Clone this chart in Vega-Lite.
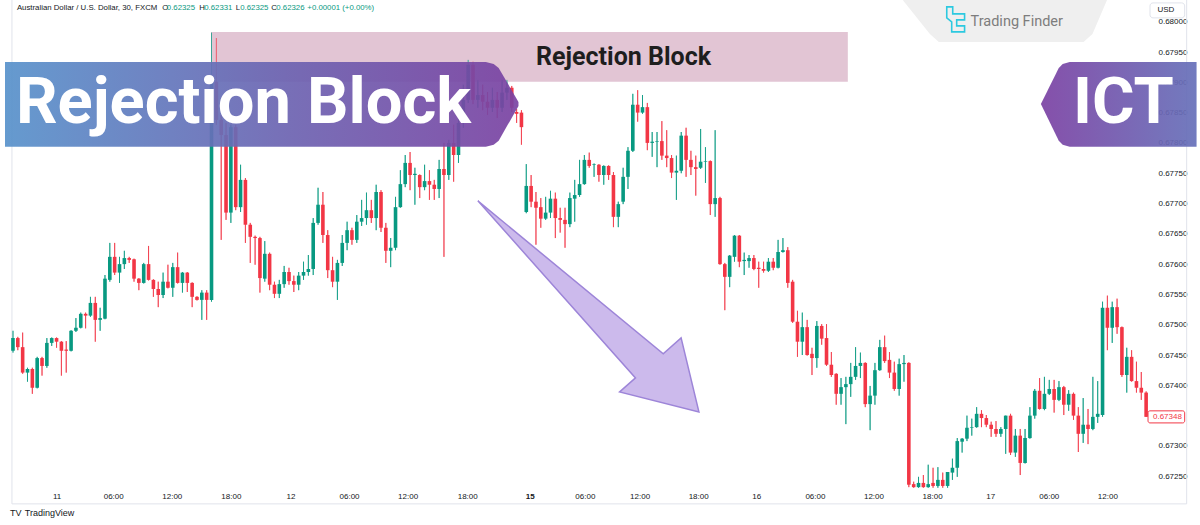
{
  "$schema": "https://vega.github.io/schema/vega-lite/v6.json",
  "width": 1152,
  "height": 487,
  "autosize": {"type": "none"},
  "padding": {"left": 0, "top": 0, "right": 48, "bottom": 38},
  "background": "#ffffff",
  "config": {"view": {"stroke": null}},
  "resolve": {"axis": {"x": "independent", "y": "independent"}},
  "datasets": {
    "candles": [
      {"i":-9,"o":0.67457,"h":0.67490,"l":0.67454,"c":0.67478},
      {"i":-8,"o":0.67478,"h":0.67480,"l":0.67458,"c":0.67463},
      {"i":-7,"o":0.67463,"h":0.67487,"l":0.67419,"c":0.67421},
      {"i":-6,"o":0.67421,"h":0.67429,"l":0.67406,"c":0.67427},
      {"i":-5,"o":0.67427,"h":0.67429,"l":0.67386,"c":0.67396},
      {"i":-4,"o":0.67396,"h":0.67447,"l":0.67395,"c":0.67445},
      {"i":-3,"o":0.67445,"h":0.67447,"l":0.67416,"c":0.67432},
      {"i":-2,"o":0.67432,"h":0.67478,"l":0.67429,"c":0.67470},
      {"i":-1,"o":0.67470,"h":0.67479,"l":0.67465,"c":0.67478},
      {"i":0,"o":0.67478,"h":0.67479,"l":0.67462,"c":0.67472},
      {"i":1,"o":0.67472,"h":0.67473,"l":0.67416,"c":0.67457},
      {"i":2,"o":0.67459,"h":0.67473,"l":0.67421,"c":0.67457},
      {"i":3,"o":0.67457,"h":0.67491,"l":0.67456,"c":0.67490},
      {"i":4,"o":0.67490,"h":0.67511,"l":0.67488,"c":0.67495},
      {"i":5,"o":0.67495,"h":0.67520,"l":0.67494,"c":0.67518},
      {"i":6,"o":0.67518,"h":0.67520,"l":0.67494,"c":0.67515},
      {"i":7,"o":0.67515,"h":0.67546,"l":0.67513,"c":0.67536},
      {"i":8,"o":0.67536,"h":0.67546,"l":0.67472,"c":0.67508},
      {"i":9,"o":0.67508,"h":0.67528,"l":0.67490,"c":0.67511},
      {"i":10,"o":0.67510,"h":0.67582,"l":0.67509,"c":0.67576},
      {"i":11,"o":0.67574,"h":0.67635,"l":0.67571,"c":0.67612},
      {"i":12,"o":0.67612,"h":0.67635,"l":0.67582,"c":0.67586},
      {"i":13,"o":0.67586,"h":0.67612,"l":0.67569,"c":0.67600},
      {"i":14,"o":0.67600,"h":0.67622,"l":0.67592,"c":0.67610},
      {"i":15,"o":0.67610,"h":0.67612,"l":0.67602,"c":0.67607},
      {"i":16,"o":0.67608,"h":0.67609,"l":0.67571,"c":0.67576},
      {"i":17,"o":0.67576,"h":0.67577,"l":0.67557,"c":0.67569},
      {"i":18,"o":0.67569,"h":0.67602,"l":0.67568,"c":0.67600},
      {"i":19,"o":0.67600,"h":0.67630,"l":0.67573,"c":0.67574},
      {"i":20,"o":0.67574,"h":0.67575,"l":0.67546,"c":0.67559},
      {"i":21,"o":0.67559,"h":0.67571,"l":0.67529,"c":0.67549},
      {"i":22,"o":0.67549,"h":0.67586,"l":0.67544,"c":0.67571},
      {"i":23,"o":0.67571,"h":0.67599,"l":0.67560,"c":0.67561},
      {"i":24,"o":0.67561,"h":0.67602,"l":0.67546,"c":0.67595},
      {"i":25,"o":0.67595,"h":0.67619,"l":0.67568,"c":0.67569},
      {"i":26,"o":0.67569,"h":0.67587,"l":0.67553,"c":0.67586},
      {"i":27,"o":0.67586,"h":0.67587,"l":0.67554,"c":0.67569},
      {"i":28,"o":0.67569,"h":0.67570,"l":0.67529,"c":0.67546},
      {"i":29,"o":0.67546,"h":0.67547,"l":0.67540,"c":0.67541},
      {"i":30,"o":0.67541,"h":0.67557,"l":0.67508,"c":0.67553},
      {"i":31,"o":0.67553,"h":0.67557,"l":0.67508,"c":0.67541},
      {"i":32,"o":0.67541,"h":0.67982,"l":0.67538,"c":0.67901},
      {"i":33,"o":0.67901,"h":0.67973,"l":0.67830,"c":0.67838},
      {"i":34,"o":0.67838,"h":0.67846,"l":0.67640,"c":0.67813},
      {"i":35,"o":0.67813,"h":0.67833,"l":0.67673,"c":0.67685},
      {"i":36,"o":0.67685,"h":0.67830,"l":0.67668,"c":0.67826},
      {"i":37,"o":0.67826,"h":0.67830,"l":0.67689,"c":0.67694},
      {"i":38,"o":0.67694,"h":0.67764,"l":0.67686,"c":0.67739},
      {"i":39,"o":0.67739,"h":0.67742,"l":0.67635,"c":0.67665},
      {"i":40,"o":0.67665,"h":0.67668,"l":0.67602,"c":0.67645},
      {"i":41,"o":0.67645,"h":0.67647,"l":0.67599,"c":0.67643},
      {"i":42,"o":0.67643,"h":0.67645,"l":0.67553,"c":0.67577},
      {"i":43,"o":0.67576,"h":0.67638,"l":0.67571,"c":0.67617},
      {"i":44,"o":0.67617,"h":0.67619,"l":0.67557,"c":0.67566},
      {"i":45,"o":0.67566,"h":0.67571,"l":0.67544,"c":0.67551},
      {"i":46,"o":0.67551,"h":0.67574,"l":0.67544,"c":0.67567},
      {"i":47,"o":0.67567,"h":0.67597,"l":0.67561,"c":0.67587},
      {"i":48,"o":0.67587,"h":0.67594,"l":0.67566,"c":0.67572},
      {"i":49,"o":0.67572,"h":0.67581,"l":0.67554,"c":0.67566},
      {"i":50,"o":0.67566,"h":0.67587,"l":0.67557,"c":0.67581},
      {"i":51,"o":0.67581,"h":0.67604,"l":0.67574,"c":0.67587},
      {"i":52,"o":0.67587,"h":0.67615,"l":0.67581,"c":0.67592},
      {"i":53,"o":0.67592,"h":0.67676,"l":0.67582,"c":0.67668},
      {"i":54,"o":0.67668,"h":0.67726,"l":0.67665,"c":0.67698},
      {"i":55,"o":0.67698,"h":0.67719,"l":0.67635,"c":0.67648},
      {"i":56,"o":0.67648,"h":0.67656,"l":0.67577,"c":0.67590},
      {"i":57,"o":0.67590,"h":0.67612,"l":0.67562,"c":0.67571},
      {"i":58,"o":0.67571,"h":0.67607,"l":0.67541,"c":0.67602},
      {"i":59,"o":0.67602,"h":0.67648,"l":0.67597,"c":0.67635},
      {"i":60,"o":0.67635,"h":0.67670,"l":0.67623,"c":0.67656},
      {"i":61,"o":0.67656,"h":0.67660,"l":0.67632,"c":0.67640},
      {"i":62,"o":0.67640,"h":0.67681,"l":0.67635,"c":0.67670},
      {"i":63,"o":0.67670,"h":0.67706,"l":0.67663,"c":0.67676},
      {"i":64,"o":0.67676,"h":0.67718,"l":0.67665,"c":0.67689},
      {"i":65,"o":0.67689,"h":0.67706,"l":0.67668,"c":0.67676},
      {"i":66,"o":0.67676,"h":0.67731,"l":0.67656,"c":0.67719},
      {"i":67,"o":0.67719,"h":0.67722,"l":0.67653,"c":0.67660},
      {"i":68,"o":0.67660,"h":0.67668,"l":0.67602,"c":0.67622},
      {"i":69,"o":0.67622,"h":0.67643,"l":0.67595,"c":0.67627},
      {"i":70,"o":0.67627,"h":0.67711,"l":0.67623,"c":0.67694},
      {"i":71,"o":0.67694,"h":0.67755,"l":0.67693,"c":0.67732},
      {"i":72,"o":0.67732,"h":0.67780,"l":0.67727,"c":0.67767},
      {"i":73,"o":0.67767,"h":0.67785,"l":0.67722,"c":0.67747},
      {"i":74,"o":0.67747,"h":0.67759,"l":0.67698,"c":0.67749},
      {"i":75,"o":0.67747,"h":0.67748,"l":0.67709,"c":0.67727},
      {"i":76,"o":0.67727,"h":0.67764,"l":0.67722,"c":0.67737},
      {"i":77,"o":0.67737,"h":0.67755,"l":0.67706,"c":0.67731},
      {"i":78,"o":0.67731,"h":0.67739,"l":0.67706,"c":0.67724},
      {"i":79,"o":0.67724,"h":0.67772,"l":0.67709,"c":0.67757},
      {"i":80,"o":0.67757,"h":0.67800,"l":0.67612,"c":0.67747},
      {"i":81,"o":0.67747,"h":0.67805,"l":0.67739,"c":0.67800},
      {"i":82,"o":0.67800,"h":0.67830,"l":0.67736,"c":0.67780},
      {"i":83,"o":0.67780,"h":0.67851,"l":0.67767,"c":0.67833},
      {"i":84,"o":0.67833,"h":0.67896,"l":0.67825,"c":0.67871},
      {"i":85,"o":0.67871,"h":0.67937,"l":0.67866,"c":0.67929},
      {"i":86,"o":0.67929,"h":0.67934,"l":0.67864,"c":0.67871},
      {"i":87,"o":0.67871,"h":0.67904,"l":0.67858,"c":0.67879},
      {"i":88,"o":0.67879,"h":0.67896,"l":0.67854,"c":0.67868},
      {"i":89,"o":0.67868,"h":0.67884,"l":0.67846,"c":0.67858},
      {"i":90,"o":0.67858,"h":0.67891,"l":0.67851,"c":0.67871},
      {"i":91,"o":0.67871,"h":0.67884,"l":0.67841,"c":0.67858},
      {"i":92,"o":0.67858,"h":0.67904,"l":0.67851,"c":0.67883},
      {"i":93,"o":0.67883,"h":0.67904,"l":0.67871,"c":0.67891},
      {"i":94,"o":0.67891,"h":0.67894,"l":0.67851,"c":0.67858},
      {"i":95,"o":0.67851,"h":0.67856,"l":0.67833,"c":0.67848},
      {"i":96,"o":0.67850,"h":0.67854,"l":0.67797,"c":0.67826},
      {"i":97,"o":0.67686,"h":0.67765,"l":0.67684,"c":0.67729},
      {"i":98,"o":0.67729,"h":0.67747,"l":0.67694,"c":0.67703},
      {"i":99,"o":0.67703,"h":0.67719,"l":0.67632,"c":0.67693},
      {"i":100,"o":0.67694,"h":0.67709,"l":0.67660,"c":0.67675},
      {"i":101,"o":0.67675,"h":0.67711,"l":0.67673,"c":0.67685},
      {"i":102,"o":0.67685,"h":0.67721,"l":0.67676,"c":0.67708},
      {"i":103,"o":0.67708,"h":0.67718,"l":0.67643,"c":0.67676},
      {"i":104,"o":0.67676,"h":0.67693,"l":0.67652,"c":0.67673},
      {"i":105,"o":0.67673,"h":0.67693,"l":0.67627,"c":0.67666},
      {"i":106,"o":0.67666,"h":0.67718,"l":0.67661,"c":0.67709},
      {"i":107,"o":0.67708,"h":0.67739,"l":0.67670,"c":0.67714},
      {"i":108,"o":0.67714,"h":0.67772,"l":0.67711,"c":0.67732},
      {"i":109,"o":0.67732,"h":0.67780,"l":0.67731,"c":0.67772},
      {"i":110,"o":0.67772,"h":0.67784,"l":0.67759,"c":0.67762},
      {"i":111,"o":0.67764,"h":0.67766,"l":0.67744,"c":0.67765},
      {"i":112,"o":0.67764,"h":0.67765,"l":0.67736,"c":0.67747},
      {"i":113,"o":0.67747,"h":0.67763,"l":0.67731,"c":0.67762},
      {"i":114,"o":0.67762,"h":0.67763,"l":0.67739,"c":0.67747},
      {"i":115,"o":0.67747,"h":0.67752,"l":0.67661,"c":0.67678},
      {"i":116,"o":0.67678,"h":0.67703,"l":0.67661,"c":0.67699},
      {"i":117,"o":0.67703,"h":0.67759,"l":0.67699,"c":0.67744},
      {"i":118,"o":0.67744,"h":0.67793,"l":0.67724,"c":0.67787},
      {"i":119,"o":0.67787,"h":0.67881,"l":0.67785,"c":0.67863},
      {"i":120,"o":0.67863,"h":0.67887,"l":0.67835,"c":0.67850},
      {"i":121,"o":0.67850,"h":0.67879,"l":0.67848,"c":0.67859},
      {"i":122,"o":0.67859,"h":0.67866,"l":0.67788,"c":0.67800},
      {"i":123,"o":0.67800,"h":0.67818,"l":0.67777,"c":0.67802},
      {"i":124,"o":0.67802,"h":0.67818,"l":0.67760,"c":0.67803},
      {"i":125,"o":0.67803,"h":0.67836,"l":0.67772,"c":0.67779},
      {"i":126,"o":0.67779,"h":0.67821,"l":0.67760,"c":0.67775},
      {"i":127,"o":0.67775,"h":0.67780,"l":0.67742,"c":0.67751},
      {"i":128,"o":0.67751,"h":0.67779,"l":0.67706,"c":0.67754},
      {"i":129,"o":0.67754,"h":0.67818,"l":0.67750,"c":0.67812},
      {"i":130,"o":0.67812,"h":0.67825,"l":0.67744,"c":0.67772},
      {"i":131,"o":0.67772,"h":0.67787,"l":0.67747,"c":0.67760},
      {"i":132,"o":0.67760,"h":0.67779,"l":0.67713,"c":0.67757},
      {"i":133,"o":0.67759,"h":0.67823,"l":0.67757,"c":0.67769},
      {"i":134,"o":0.67769,"h":0.67793,"l":0.67734,"c":0.67770},
      {"i":135,"o":0.67770,"h":0.67771,"l":0.67681,"c":0.67699},
      {"i":136,"o":0.67699,"h":0.67821,"l":0.67678,"c":0.67709},
      {"i":137,"o":0.67709,"h":0.67711,"l":0.67599,"c":0.67600},
      {"i":138,"o":0.67600,"h":0.67602,"l":0.67524,"c":0.67579},
      {"i":139,"o":0.67579,"h":0.67615,"l":0.67562,"c":0.67614},
      {"i":140,"o":0.67612,"h":0.67648,"l":0.67604,"c":0.67647},
      {"i":141,"o":0.67647,"h":0.67648,"l":0.67595,"c":0.67604},
      {"i":142,"o":0.67605,"h":0.67619,"l":0.67582,"c":0.67607},
      {"i":143,"o":0.67605,"h":0.67615,"l":0.67594,"c":0.67610},
      {"i":144,"o":0.67610,"h":0.67615,"l":0.67590,"c":0.67592},
      {"i":145,"o":0.67594,"h":0.67604,"l":0.67561,"c":0.67592},
      {"i":146,"o":0.67592,"h":0.67604,"l":0.67586,"c":0.67589},
      {"i":147,"o":0.67589,"h":0.67610,"l":0.67587,"c":0.67604},
      {"i":148,"o":0.67604,"h":0.67610,"l":0.67590,"c":0.67594},
      {"i":149,"o":0.67594,"h":0.67640,"l":0.67593,"c":0.67620},
      {"i":150,"o":0.67620,"h":0.67643,"l":0.67619,"c":0.67623},
      {"i":151,"o":0.67623,"h":0.67628,"l":0.67561,"c":0.67569},
      {"i":152,"o":0.67571,"h":0.67574,"l":0.67503,"c":0.67505},
      {"i":153,"o":0.67505,"h":0.67523,"l":0.67447,"c":0.67472},
      {"i":154,"o":0.67472,"h":0.67520,"l":0.67450,"c":0.67496},
      {"i":155,"o":0.67496,"h":0.67508,"l":0.67449,"c":0.67450},
      {"i":156,"o":0.67452,"h":0.67462,"l":0.67417,"c":0.67445},
      {"i":157,"o":0.67445,"h":0.67506,"l":0.67429,"c":0.67498},
      {"i":158,"o":0.67498,"h":0.67501,"l":0.67467,"c":0.67477},
      {"i":159,"o":0.67478,"h":0.67501,"l":0.67432,"c":0.67434},
      {"i":160,"o":0.67434,"h":0.67455,"l":0.67414,"c":0.67417},
      {"i":161,"o":0.67419,"h":0.67420,"l":0.67368,"c":0.67386},
      {"i":162,"o":0.67386,"h":0.67412,"l":0.67368,"c":0.67397},
      {"i":163,"o":0.67397,"h":0.67414,"l":0.67336,"c":0.67402},
      {"i":164,"o":0.67402,"h":0.67437,"l":0.67381,"c":0.67414},
      {"i":165,"o":0.67414,"h":0.67463,"l":0.67409,"c":0.67432},
      {"i":166,"o":0.67432,"h":0.67454,"l":0.67412,"c":0.67437},
      {"i":167,"o":0.67437,"h":0.67438,"l":0.67364,"c":0.67369},
      {"i":168,"o":0.67369,"h":0.67399,"l":0.67326,"c":0.67383},
      {"i":169,"o":0.67383,"h":0.67437,"l":0.67368,"c":0.67425},
      {"i":170,"o":0.67425,"h":0.67475,"l":0.67424,"c":0.67463},
      {"i":171,"o":0.67463,"h":0.67482,"l":0.67437,"c":0.67440},
      {"i":172,"o":0.67442,"h":0.67455,"l":0.67412,"c":0.67421},
      {"i":173,"o":0.67421,"h":0.67439,"l":0.67391,"c":0.67394},
      {"i":174,"o":0.67394,"h":0.67444,"l":0.67383,"c":0.67435},
      {"i":175,"o":0.67435,"h":0.67450,"l":0.67406,"c":0.67437},
      {"i":176,"o":0.67437,"h":0.67438,"l":0.67232,"c":0.67236},
      {"i":177,"o":0.67237,"h":0.67241,"l":0.67231,"c":0.67232},
      {"i":178,"o":0.67232,"h":0.67249,"l":0.67231,"c":0.67239},
      {"i":179,"o":0.67239,"h":0.67252,"l":0.67231,"c":0.67232},
      {"i":180,"o":0.67232,"h":0.67269,"l":0.67231,"c":0.67237},
      {"i":181,"o":0.67239,"h":0.67264,"l":0.67231,"c":0.67234},
      {"i":182,"o":0.67234,"h":0.67265,"l":0.67231,"c":0.67244},
      {"i":183,"o":0.67244,"h":0.67256,"l":0.67231,"c":0.67234},
      {"i":184,"o":0.67234,"h":0.67257,"l":0.67231,"c":0.67257},
      {"i":185,"o":0.67256,"h":0.67279,"l":0.67244,"c":0.67264},
      {"i":186,"o":0.67264,"h":0.67313,"l":0.67249,"c":0.67308},
      {"i":187,"o":0.67307,"h":0.67313,"l":0.67289,"c":0.67312},
      {"i":188,"o":0.67312,"h":0.67350,"l":0.67308,"c":0.67330},
      {"i":189,"o":0.67330,"h":0.67345,"l":0.67317,"c":0.67331},
      {"i":190,"o":0.67331,"h":0.67364,"l":0.67330,"c":0.67353},
      {"i":191,"o":0.67353,"h":0.67359,"l":0.67331,"c":0.67346},
      {"i":192,"o":0.67346,"h":0.67351,"l":0.67331,"c":0.67335},
      {"i":193,"o":0.67335,"h":0.67340,"l":0.67315,"c":0.67328},
      {"i":194,"o":0.67328,"h":0.67341,"l":0.67315,"c":0.67320},
      {"i":195,"o":0.67320,"h":0.67331,"l":0.67315,"c":0.67328},
      {"i":196,"o":0.67328,"h":0.67350,"l":0.67287,"c":0.67350},
      {"i":197,"o":0.67350,"h":0.67353,"l":0.67285,"c":0.67289},
      {"i":198,"o":0.67289,"h":0.67328,"l":0.67282,"c":0.67317},
      {"i":199,"o":0.67317,"h":0.67328,"l":0.67252,"c":0.67272},
      {"i":200,"o":0.67272,"h":0.67328,"l":0.67271,"c":0.67313},
      {"i":201,"o":0.67313,"h":0.67364,"l":0.67312,"c":0.67350},
      {"i":202,"o":0.67350,"h":0.67394,"l":0.67345,"c":0.67391},
      {"i":203,"o":0.67391,"h":0.67412,"l":0.67360,"c":0.67361},
      {"i":204,"o":0.67361,"h":0.67414,"l":0.67359,"c":0.67386},
      {"i":205,"o":0.67386,"h":0.67409,"l":0.67384,"c":0.67394},
      {"i":206,"o":0.67394,"h":0.67409,"l":0.67355,"c":0.67376},
      {"i":207,"o":0.67376,"h":0.67407,"l":0.67374,"c":0.67397},
      {"i":208,"o":0.67397,"h":0.67399,"l":0.67351,"c":0.67368},
      {"i":209,"o":0.67368,"h":0.67392,"l":0.67358,"c":0.67386},
      {"i":210,"o":0.67386,"h":0.67388,"l":0.67343,"c":0.67350},
      {"i":211,"o":0.67350,"h":0.67364,"l":0.67290,"c":0.67320},
      {"i":212,"o":0.67320,"h":0.67379,"l":0.67305,"c":0.67335},
      {"i":213,"o":0.67335,"h":0.67361,"l":0.67303,"c":0.67328},
      {"i":214,"o":0.67328,"h":0.67414,"l":0.67326,"c":0.67348},
      {"i":215,"o":0.67348,"h":0.67407,"l":0.67338,"c":0.67353},
      {"i":216,"o":0.67351,"h":0.67538,"l":0.67348,"c":0.67528},
      {"i":217,"o":0.67528,"h":0.67548,"l":0.67458,"c":0.67495},
      {"i":218,"o":0.67495,"h":0.67538,"l":0.67470,"c":0.67529},
      {"i":219,"o":0.67529,"h":0.67543,"l":0.67485,"c":0.67496},
      {"i":220,"o":0.67496,"h":0.67497,"l":0.67414,"c":0.67417},
      {"i":221,"o":0.67417,"h":0.67462,"l":0.67388,"c":0.67447},
      {"i":222,"o":0.67447,"h":0.67458,"l":0.67406,"c":0.67407},
      {"i":223,"o":0.67407,"h":0.67439,"l":0.67388,"c":0.67396},
      {"i":224,"o":0.67396,"h":0.67422,"l":0.67376,"c":0.67388},
      {"i":225,"o":0.67388,"h":0.67390,"l":0.67348,"c":0.67348}
    ],
    "shapes": [
      {"s":"b1","k":0,"x":-10.645,"y":0.679337},
      {"s":"b1","k":1,"x":88.64,"y":0.679337},
      {"s":"b1","k":2,"x":90.27,"y":0.679304},
      {"s":"b1","k":3,"x":91.30,"y":0.679238},
      {"s":"b1","k":4,"x":95.39,"y":0.678677},
      {"s":"b1","k":5,"x":95.39,"y":0.678611},
      {"s":"b1","k":6,"x":91.30,"y":0.678034},
      {"s":"b1","k":7,"x":90.27,"y":0.677968},
      {"s":"b1","k":8,"x":88.64,"y":0.677935},
      {"s":"b1","k":9,"x":-10.645,"y":0.677935},
      {"s":"b2","k":0,"x":203.27,"y":0.678644},
      {"s":"b2","k":1,"x":206.96,"y":0.679238},
      {"s":"b2","k":2,"x":207.77,"y":0.679304},
      {"s":"b2","k":3,"x":209.21,"y":0.679337},
      {"s":"b2","k":4,"x":235.41,"y":0.679337},
      {"s":"b2","k":5,"x":235.41,"y":0.677935},
      {"s":"b2","k":6,"x":209.21,"y":0.677935},
      {"s":"b2","k":7,"x":207.77,"y":0.677968},
      {"s":"b2","k":8,"x":206.96,"y":0.678034},
      {"s":"ar","k":0,"x":87.00,"y":0.677044},
      {"s":"ar","k":1,"x":125.28,"y":0.674519},
      {"s":"ar","k":2,"x":128.97,"y":0.674783},
      {"s":"ar","k":3,"x":132.65,"y":0.673562},
      {"s":"ar","k":4,"x":116.27,"y":0.673892},
      {"s":"ar","k":5,"x":119.55,"y":0.674123},
      {"s":"lg","k":0,"x":174.62,"y":0.68037},
      {"s":"lg","k":1,"x":216.99,"y":0.68037},
      {"s":"lg","k":2,"x":213.92,"y":0.679797},
      {"s":"lg","k":3,"x":212.08,"y":0.679667},
      {"s":"lg","k":4,"x":182.19,"y":0.679667},
      {"s":"lg","k":5,"x":180.35,"y":0.679797},
      {"s":"ic","k":0,"x":183.83,"y":0.680245},
      {"s":"ic","k":1,"x":183.83,"y":0.680063},
      {"s":"ic","k":2,"x":184.85,"y":0.679997},
      {"s":"ic","k":3,"x":184.85,"y":0.679832},
      {"s":"ic","k":4,"x":187.51,"y":0.679832},
      {"s":"ic","k":5,"x":187.51,"y":0.679931},
      {"s":"ic","k":6,"x":185.88,"y":0.679931},
      {"s":"ic","k":7,"x":185.88,"y":0.68003},
      {"s":"ic","k":8,"x":187.51,"y":0.68003},
      {"s":"ic","k":9,"x":187.51,"y":0.680129},
      {"s":"ic","k":10,"x":185.06,"y":0.680129},
      {"s":"ic","k":11,"x":185.06,"y":0.680245}
    ]
  },
  "layer": [
    {
      "data": {"name": "candles"},
      "mark": {"type": "rule", "strokeWidth": 1, "opacity": 0.75},
      "encoding": {
        "x": {"field": "i", "type": "quantitative", "scale": {"domain": [-10.645, 225.18], "nice": false, "zero": false},
          "axis": {"title": null, "values": [0, 11.7, 23.8, 36, 48.3, 60.4, 72.5, 84.8, 97.7, 109.1, 120.4, 132.5, 144.5, 156.6, 168.7, 180.8, 192.8, 204.9, 217],
            "labelExpr": "['11','06:00','12:00','18:00','12','06:00','12:00','18:00','15','06:00','12:00','18:00','16','06:00','12:00','18:00','17','06:00','12:00'][indexof([0, 11.7, 23.8, 36, 48.3, 60.4, 72.5, 84.8, 97.7, 109.1, 120.4, 132.5, 144.5, 156.6, 168.7, 180.8, 192.8, 204.9, 217], datum.value)]",
            "labelFontWeight": {"condition": {"test": "datum.value == 97.7", "value": "bold"}, "value": "normal"},
            "ticks": false, "domain": false, "grid": false, "labelPadding": 5, "labelFontSize": 8, "labelFont": "Liberation Sans", "labelColor": "#131722", "labelFlush": false, "labelOverlap": false, "orient": "bottom"}},
        "y": {"field": "l", "type": "quantitative", "scale": {"domain": [0.6723225, 0.680358], "nice": false, "zero": false},
          "axis": {"title": null, "orient": "right", "values": [0.6725, 0.673, 0.674, 0.6745, 0.675, 0.6755, 0.676, 0.6765, 0.677, 0.6775, 0.678, 0.6785, 0.679, 0.6795, 0.68],
            "format": ".5f", "ticks": false, "domain": false, "grid": false, "labelPadding": 6, "labelFontSize": 8, "labelFont": "Liberation Sans", "labelColor": "#131722", "labelFlush": false, "labelOverlap": false, "labelBound": false, "labelSeparation": 0}},
        "y2": {"field": "h"},
        "color": {"condition": {"test": "datum.c >= datum.o", "value": "#089981"}, "value": "#f23645"}
      }
    },
    {
      "data": {"values": [
        {"x":-9.21,"x2":-9.21,"y":0.68037,"y2":0.672044},
        {"x":233.37,"x2":233.37,"y":0.68037,"y2":0.672044},
        {"x":-9.21,"x2":233.37,"y":0.672044,"y2":0.672044}
      ]},
      "mark": {"type": "rule", "color": "#e0e3eb", "strokeWidth": 1},
      "encoding": {
        "x": {"field": "x", "type": "quantitative", "axis": null},
        "x2": {"field": "x2"},
        "y": {"field": "y", "type": "quantitative", "axis": null},
        "y2": {"field": "y2"}
      }
    },
    {
      "data": {"values": [{"x":31.9,"x2":163.4,"y":0.67901,"y2":0.67983}]},
      "mark": {"type": "rect", "color": "#e2c5d4"},
      "encoding": {
        "x": {"field": "x", "type": "quantitative", "axis": null},
        "x2": {"field": "x2"},
        "y": {"field": "y", "type": "quantitative", "axis": null},
        "y2": {"field": "y2"}
      }
    },
    {
      "data": {"values": [{"x":117.09,"y":0.679288,"t":"Rejection Block"}]},
      "mark": {"type": "text", "font": "Roboto", "fontWeight": "bold", "fontSize": 25, "color": "#1e1e1e", "align": "center", "baseline": "alphabetic"},
      "encoding": {
        "x": {"field": "x", "type": "quantitative", "axis": null},
        "y": {"field": "y", "type": "quantitative", "axis": null},
        "text": {"field": "t"}
      }
    },
    {
      "data": {"name": "candles"},
      "mark": {"type": "rule", "strokeWidth": 1, "opacity": 0.75},
      "encoding": {
        "x": {"field": "i", "type": "quantitative", "axis": null},
        "y": {"field": "l", "type": "quantitative", "axis": null},
        "y2": {"field": "h"},
        "color": {"condition": {"test": "datum.c >= datum.o", "value": "#089981"}, "value": "#f23645"}
      }
    },
    {
      "data": {"name": "candles"},
      "mark": {"type": "bar", "size": 3.6},
      "encoding": {
        "x": {"field": "i", "type": "quantitative", "axis": null},
        "y": {"field": "o", "type": "quantitative", "axis": null},
        "y2": {"field": "c"},
        "color": {"condition": {"test": "datum.c >= datum.o", "value": "#089981"}, "value": "#f23645"}
      }
    },
    {
      "data": {"name": "shapes"},
      "transform": [{"filter": "datum.s == 'ar'"}],
      "mark": {"type": "line", "interpolate": "linear-closed", "fill": "#c6b3ea", "fillOpacity": 0.9, "stroke": "#9d85d8", "strokeWidth": 1.5},
      "encoding": {
        "x": {"field": "x", "type": "quantitative", "axis": null},
        "y": {"field": "y", "type": "quantitative", "axis": null},
        "order": {"field": "k"}
      }
    },
    {
      "data": {"name": "shapes"},
      "transform": [{"filter": "datum.s == 'b1'"}],
      "mark": {"type": "line", "interpolate": "linear-closed", "strokeWidth": 0, "fillOpacity": 0.92,
        "fill": {"gradient": "linear", "x1": 0, "y1": 0, "x2": 1, "y2": 0, "stops": [{"offset": 0, "color": "#5892cb"}, {"offset": 0.55, "color": "#6c63b1"}, {"offset": 1, "color": "#7a42a2"}]}},
      "encoding": {
        "x": {"field": "x", "type": "quantitative", "axis": null},
        "y": {"field": "y", "type": "quantitative", "axis": null},
        "order": {"field": "k"}
      }
    },
    {
      "data": {"values": [{"x":38.6,"y":0.678331,"t":"Rejection Block"}]},
      "mark": {"type": "text", "font": "Roboto", "fontWeight": "bold", "fontSize": 65, "color": "#ffffff", "align": "center", "baseline": "alphabetic"},
      "encoding": {
        "x": {"field": "x", "type": "quantitative", "axis": null},
        "y": {"field": "y", "type": "quantitative", "axis": null},
        "text": {"field": "t"}
      }
    },
    {
      "data": {"name": "shapes"},
      "transform": [{"filter": "datum.s == 'b2'"}],
      "mark": {"type": "line", "interpolate": "linear-closed", "strokeWidth": 0, "fillOpacity": 0.92,
        "fill": {"gradient": "linear", "x1": 0, "y1": 0, "x2": 1, "y2": 0, "stops": [{"offset": 0, "color": "#7b41a3"}, {"offset": 1, "color": "#6670b9"}]}},
      "encoding": {
        "x": {"field": "x", "type": "quantitative", "axis": null},
        "y": {"field": "y", "type": "quantitative", "axis": null},
        "order": {"field": "k"}
      }
    },
    {
      "data": {"values": [{"x":220.3,"y":0.678331,"t":"ICT"}]},
      "mark": {"type": "text", "font": "Roboto", "fontWeight": "bold", "fontSize": 65, "color": "#ffffff", "align": "center", "baseline": "alphabetic"},
      "encoding": {
        "x": {"field": "x", "type": "quantitative", "axis": null},
        "y": {"field": "y", "type": "quantitative", "axis": null},
        "text": {"field": "t"}
      }
    },
    {
      "data": {"name": "shapes"},
      "transform": [{"filter": "datum.s == 'lg'"}],
      "mark": {"type": "line", "interpolate": "linear-closed", "fill": "#efefef", "strokeWidth": 0},
      "encoding": {
        "x": {"field": "x", "type": "quantitative", "axis": null},
        "y": {"field": "y", "type": "quantitative", "axis": null},
        "order": {"field": "k"}
      }
    },
    {
      "data": {"name": "shapes"},
      "transform": [{"filter": "datum.s == 'ic'"}],
      "mark": {"type": "line", "interpolate": "linear-closed", "stroke": "#2cc9e0", "strokeWidth": 1.6},
      "encoding": {
        "x": {"field": "x", "type": "quantitative", "axis": null},
        "y": {"field": "y", "type": "quantitative", "axis": null},
        "order": {"field": "k"}
      }
    },
    {
      "data": {"values": [{"x":188.74,"y":0.679989,"t":"Trading Finder"}]},
      "mark": {"type": "text", "font": "Roboto", "fontSize": 14.5, "color": "#7d7d7d", "align": "left", "baseline": "middle"},
      "encoding": {
        "x": {"field": "x", "type": "quantitative", "axis": null},
        "y": {"field": "y", "type": "quantitative", "axis": null},
        "text": {"field": "t"}
      }
    },
    {
      "data": {"values": [
        {"x":-8.19,"y":0.68022,"g":"n","t":"Australian Dollar / U.S. Dollar, 30, FXCM"},
        {"x":21.84,"y":0.68022,"g":"n","t":"O"},
        {"x":22.78,"y":0.68022,"g":"v","t":"0.62325"},
        {"x":29.48,"y":0.68022,"g":"n","t":"H"},
        {"x":30.50,"y":0.68022,"g":"v","t":"0.62331"},
        {"x":36.99,"y":0.68022,"g":"n","t":"L"},
        {"x":37.93,"y":0.68022,"g":"v","t":"0.62325"},
        {"x":44.36,"y":0.68022,"g":"n","t":"C"},
        {"x":45.38,"y":0.68022,"g":"v","t":"0.62326"},
        {"x":51.79,"y":0.68022,"g":"v","t":"+0.00001 (+0.00%)"}
      ]},
      "mark": {"type": "text", "font": "Liberation Sans", "fontSize": 7.8, "align": "left", "baseline": "middle"},
      "encoding": {
        "x": {"field": "x", "type": "quantitative", "axis": null},
        "y": {"field": "y", "type": "quantitative", "axis": null},
        "text": {"field": "t"},
        "color": {"condition": {"test": "datum.g == 'v'", "value": "#089981"}, "value": "#131722"}
      }
    },
    {
      "data": {"values": [{"x":225.8,"x2":232.96,"y":0.680063,"y2":0.68031}]},
      "mark": {"type": "rect", "fill": "#ffffff", "stroke": "#e0e3eb", "strokeWidth": 1, "cornerRadius": 3},
      "encoding": {
        "x": {"field": "x", "type": "quantitative", "axis": null},
        "x2": {"field": "x2"},
        "y": {"field": "y", "type": "quantitative", "axis": null},
        "y2": {"field": "y2"}
      }
    },
    {
      "data": {"values": [{"t":"USD","x":229.07,"y":0.680195}]},
      "mark": {"type": "text", "font": "Liberation Sans", "fontSize": 8, "color": "#131722", "align": "center", "baseline": "middle"},
      "encoding": {
        "x": {"field": "x", "type": "quantitative", "axis": null},
        "y": {"field": "y", "type": "quantitative", "axis": null},
        "text": {"field": "t"}
      }
    },
    {
      "data": {"values": [{"x":225.39,"x2":232.96,"y":0.67338,"y2":0.673579}]},
      "mark": {"type": "rect", "fill": "#ffffff", "stroke": "#f23645", "strokeWidth": 1, "cornerRadius": 2},
      "encoding": {
        "x": {"field": "x", "type": "quantitative", "axis": null},
        "x2": {"field": "x2"},
        "y": {"field": "y", "type": "quantitative", "axis": null},
        "y2": {"field": "y2"}
      }
    },
    {
      "data": {"values": [{"t":"0.67348","x":226.41,"y":0.67348}]},
      "mark": {"type": "text", "font": "Liberation Sans", "fontSize": 8, "color": "#f23645", "align": "left", "baseline": "middle"},
      "encoding": {
        "x": {"field": "x", "type": "quantitative", "axis": null},
        "y": {"field": "y", "type": "quantitative", "axis": null},
        "text": {"field": "t"}
      }
    },
    {
      "data": {"values": [{"t":"TV","x":-9.62,"y":0.671895,"w":"b"},{"t":"TradingView","x":-6.55,"y":0.671895,"w":"n"}]},
      "mark": {"type": "text", "font": "Liberation Sans", "fontSize": 9, "color": "#131722", "align": "left", "baseline": "middle"},
      "encoding": {
        "x": {"field": "x", "type": "quantitative", "axis": null},
        "y": {"field": "y", "type": "quantitative", "axis": null},
        "text": {"field": "t"},
        "fontWeight": {"condition": {"test": "datum.w == 'b'", "value": "bold"}, "value": "normal"}
      }
    }
  ]
}
